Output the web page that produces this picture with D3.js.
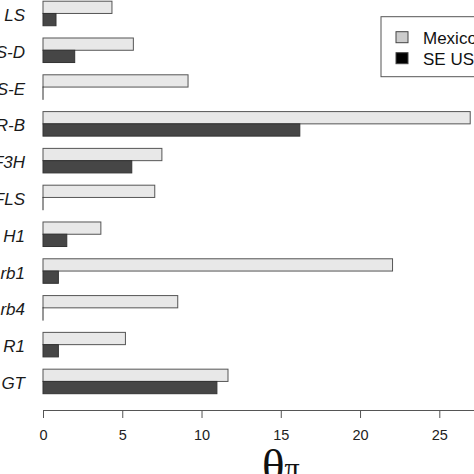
<!DOCTYPE html>
<html>
<head>
<meta charset="utf-8">
<script src="https://cdn.jsdelivr.net/npm/d3@7"></script>
<style>
  html, body { margin: 0; padding: 0; background: #fff; overflow: hidden; }
  #chart svg { display: block; }
</style>
</head>
<body>
<div id="chart"></div>
<script>
// Data
const genes = ['LS', 'S-D', 'S-E', 'R-B', 'F3H', 'FLS', 'H1', 'rb1', 'rb4', 'R1', 'GT']
const mexico = [4.35, 5.7, 9.15, 26.95, 7.5, 7.05, 3.65, 22.05, 8.5, 5.2, 11.67]
const seUS = [0.82, 2.0, 0, 16.2, 5.6, 0, 1.5, 0.97, 0, 0.97, 10.97]
const seriesNames = ['Mexico', 'SE US']
const xTicks = [0, 5, 10, 15, 20, 25, 30]

function draw() {
  const dataset = genes.map((g, i) => ({ gene: g, values: [mexico[i], seUS[i]] }))

  // Dimensions
  let dimensions = {
    width: 474,
    height: 474,
    left: 43,
    top: 1.2,
    barsBottom: 393.7,
    axisY: 410
  }

  const svg = d3.select('#chart')
    .append('svg')
    .attr('width', dimensions.width)
    .attr('height', dimensions.height)

  // Scales
  const xScale = d3.scaleLinear()
    .domain([0, 25])
    .range([dimensions.left, 439.3])

  const yScale = d3.scaleBand()
    .domain(genes)
    .range([dimensions.top, dimensions.barsBottom])
    .paddingInner(1 / 3)
    .paddingOuter(0)

  const subScale = d3.scaleBand()
    .domain(seriesNames)
    .range([0, yScale.bandwidth()])

  const fills = { 'Mexico': '#e8e8e8', 'SE US': '#464646' }
  const strokes = { 'Mexico': '#555', 'SE US': '#333' }

  // Bars
  const groups = svg.append('g')
    .selectAll('g')
    .data(dataset)
    .join('g')
    .attr('transform', d => `translate(0, ${yScale(d.gene)})`)

  groups.selectAll('rect')
    .data(d => d.values.map((v, j) => ({ key: seriesNames[j], value: v })))
    .join('rect')
    .attr('x', xScale(0))
    .attr('y', d => subScale(d.key))
    // zero-width bars still show their border as a thin line
    .attr('width', d => Math.max(xScale(d.value) - xScale(0), 0.01))
    .attr('height', subScale.bandwidth())
    .attr('fill', d => fills[d.key])
    .attr('stroke', d => strokes[d.key])
    .attr('stroke-width', 1)

  // Gene labels (italic, right-aligned, cut off by the left edge)
  svg.append('g')
    .selectAll('text')
    .data(dataset)
    .join('text')
    .attr('x', 25)
    .attr('y', d => yScale(d.gene) + yScale.bandwidth() / 2 + 7.5)
    .attr('text-anchor', 'end')
    .attr('font-family', 'Liberation Sans, Arial, sans-serif')
    .attr('font-style', 'italic')
    .attr('font-size', 17)
    .attr('fill', '#1a1a1a')
    .text(d => d.gene)

  // X axis
  const xAxis = d3.axisBottom(xScale)
    .tickValues(xTicks)
    .tickSize(8)
    .tickSizeOuter(0)
    .tickPadding(12)

  const xAxisGroup = svg.append('g')
    .attr('transform', `translate(0, ${dimensions.axisY})`)
    .call(xAxis)

  xAxisGroup.select('.domain')
    .attr('stroke', '#555')
    .attr('d', `M${xScale(0)},0.5H${xScale(30)}`)
  xAxisGroup.selectAll('.tick line').attr('stroke', '#555')
  xAxisGroup.selectAll('.tick text')
    .attr('font-family', 'Liberation Sans, Arial, sans-serif')
    .attr('font-size', 14.5)
    .attr('fill', '#222')

  // Axis title: theta with subscript pi
  const title = svg.append('text')
    .attr('x', 262)
    .attr('y', 482)
    .attr('font-family', 'Liberation Serif, Times New Roman, serif')
    .attr('fill', '#111')
  title.append('tspan').attr('font-size', 47).text('θ')
  title.append('tspan').attr('font-size', 30).attr('dy', -4).text('π')

  // Legend
  const legend = svg.append('g').attr('transform', 'translate(381, 16.7)')
  legend.append('rect')
    .attr('width', 130)
    .attr('height', 60)
    .attr('fill', '#fff')
    .attr('stroke', '#555')

  const legendFills = { 'Mexico': '#cccccc', 'SE US': '#000' }
  const items = legend.selectAll('g.item')
    .data(seriesNames)
    .join('g')
    .attr('class', 'item')
    .attr('transform', (d, i) => `translate(15, ${15 + i * 21})`)

  items.append('rect')
    .attr('width', 12)
    .attr('height', 11)
    .attr('fill', d => legendFills[d])
    .attr('stroke', '#444')

  items.append('text')
    .attr('x', 27)
    .attr('y', 12)
    .attr('font-family', 'Liberation Sans, Arial, sans-serif')
    .attr('font-size', 17)
    .attr('fill', '#111')
    .text(d => d)
}

draw()
</script>
</body>
</html>
